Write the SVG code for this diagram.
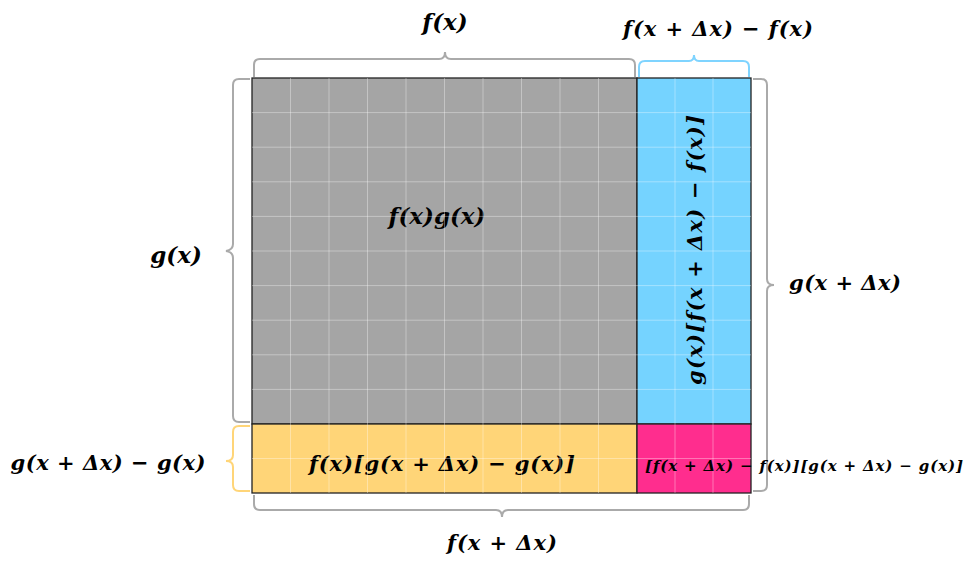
<svg xmlns="http://www.w3.org/2000/svg" width="977" height="568" viewBox="0 0 977 568">
<style>
.t{font-family:"DejaVu Serif","Liberation Serif",serif;font-weight:bold;font-style:italic;font-size:21px;fill:#000}
.big{font-size:23px}
.br{fill:none;stroke:#aaaaaa;stroke-width:2}
.grid line{stroke:#ffffff;stroke-opacity:0.35;stroke-width:1}
.cell{stroke:#222;stroke-width:1.3}
</style>
<rect width="977" height="568" fill="#fff"/>
<g id="gray"><rect class="cell" x="252" y="78" width="385" height="346" fill="#a5a5a5"/><text class="t big" x="437" y="224" text-anchor="middle">f(x)g(x)</text></g>
<g id="blue"><rect class="cell" x="637" y="78" width="114" height="346" fill="#75d3ff"/><text class="t" transform="translate(702,250) rotate(-90)" text-anchor="middle" textLength="270">g(x)[f(x + Δx) − f(x)]</text></g>
<g id="yellow"><rect class="cell" x="252" y="424" width="385" height="69" fill="#ffd578"/><text class="t" x="442" y="471" text-anchor="middle" textLength="266">f(x)[g(x + Δx) − g(x)]</text></g>
<g id="pink"><rect class="cell" x="637" y="424" width="114" height="69" fill="#ff2d8e"/></g>
<g class="grid">
<line x1="290.5" y1="78" x2="290.5" y2="493"/><line x1="329" y1="78" x2="329" y2="493"/><line x1="367.5" y1="78" x2="367.5" y2="493"/><line x1="406" y1="78" x2="406" y2="493"/><line x1="444.5" y1="78" x2="444.5" y2="493"/><line x1="483" y1="78" x2="483" y2="493"/><line x1="521.5" y1="78" x2="521.5" y2="493"/><line x1="560" y1="78" x2="560" y2="493"/><line x1="598.5" y1="78" x2="598.5" y2="493"/><line x1="675" y1="78" x2="675" y2="493"/><line x1="713" y1="78" x2="713" y2="493"/>
<line x1="252" y1="112.6" x2="751" y2="112.6"/><line x1="252" y1="147.2" x2="751" y2="147.2"/><line x1="252" y1="181.8" x2="751" y2="181.8"/><line x1="252" y1="216.4" x2="751" y2="216.4"/><line x1="252" y1="251" x2="751" y2="251"/><line x1="252" y1="285.6" x2="751" y2="285.6"/><line x1="252" y1="320.2" x2="751" y2="320.2"/><line x1="252" y1="354.8" x2="751" y2="354.8"/><line x1="252" y1="389.4" x2="751" y2="389.4"/><line x1="252" y1="458.5" x2="751" y2="458.5"/>
</g>
<g id="braces">
<path class="br" d="M254,77 V65 Q254,59 260,59 H439 Q445,59 445,52 Q445,59 451,59 H629 Q635,59 635,65 V77"/>
<path class="br" style="stroke:#7fd4ff" d="M639,77 V67 Q639,61 645,61 H689 Q694,61 694,55 Q694,61 699,61 H743 Q749,61 749,67 V77"/>
<path class="br" d="M250,79 H239 Q233,79 233,85 V244 Q233,250 226,251 Q233,252 233,258 V416 Q233,422 239,422 H250"/>
<path class="br" style="stroke:#ffd578" d="M250,426 H239 Q233,426 233,432 V455 Q233,461 226,461 Q233,461 233,467 V485 Q233,491 239,491 H250"/>
<path class="br" d="M753,79 H761 Q767,79 767,85 V279 Q767,285 774,285 Q767,285 767,291 V485 Q767,491 761,491 H753"/>
<path class="br" d="M254,495 V504 Q254,510 260,510 H496 Q502,510 502,517 Q502,510 508,510 H743 Q749,510 749,504 V495"/>
</g>
<g id="labels">
<text class="t big" x="445" y="30" text-anchor="middle">f(x)</text>
<text class="t" x="718" y="36" text-anchor="middle" textLength="190">f(x + Δx) − f(x)</text>
<text class="t big" x="176" y="263" text-anchor="middle">g(x)</text>
<text class="t" x="108" y="470" text-anchor="middle" textLength="195">g(x + Δx) − g(x)</text>
<text class="t" x="845" y="290" text-anchor="middle" textLength="112">g(x + Δx)</text>
<text class="t" x="502" y="550" text-anchor="middle" textLength="110">f(x + Δx)</text>
<text class="t" x="804" y="471" text-anchor="middle" style="font-size:15px" textLength="318">[f(x + Δx) − f(x)][g(x + Δx) − g(x)]</text>
</g>
</svg>
